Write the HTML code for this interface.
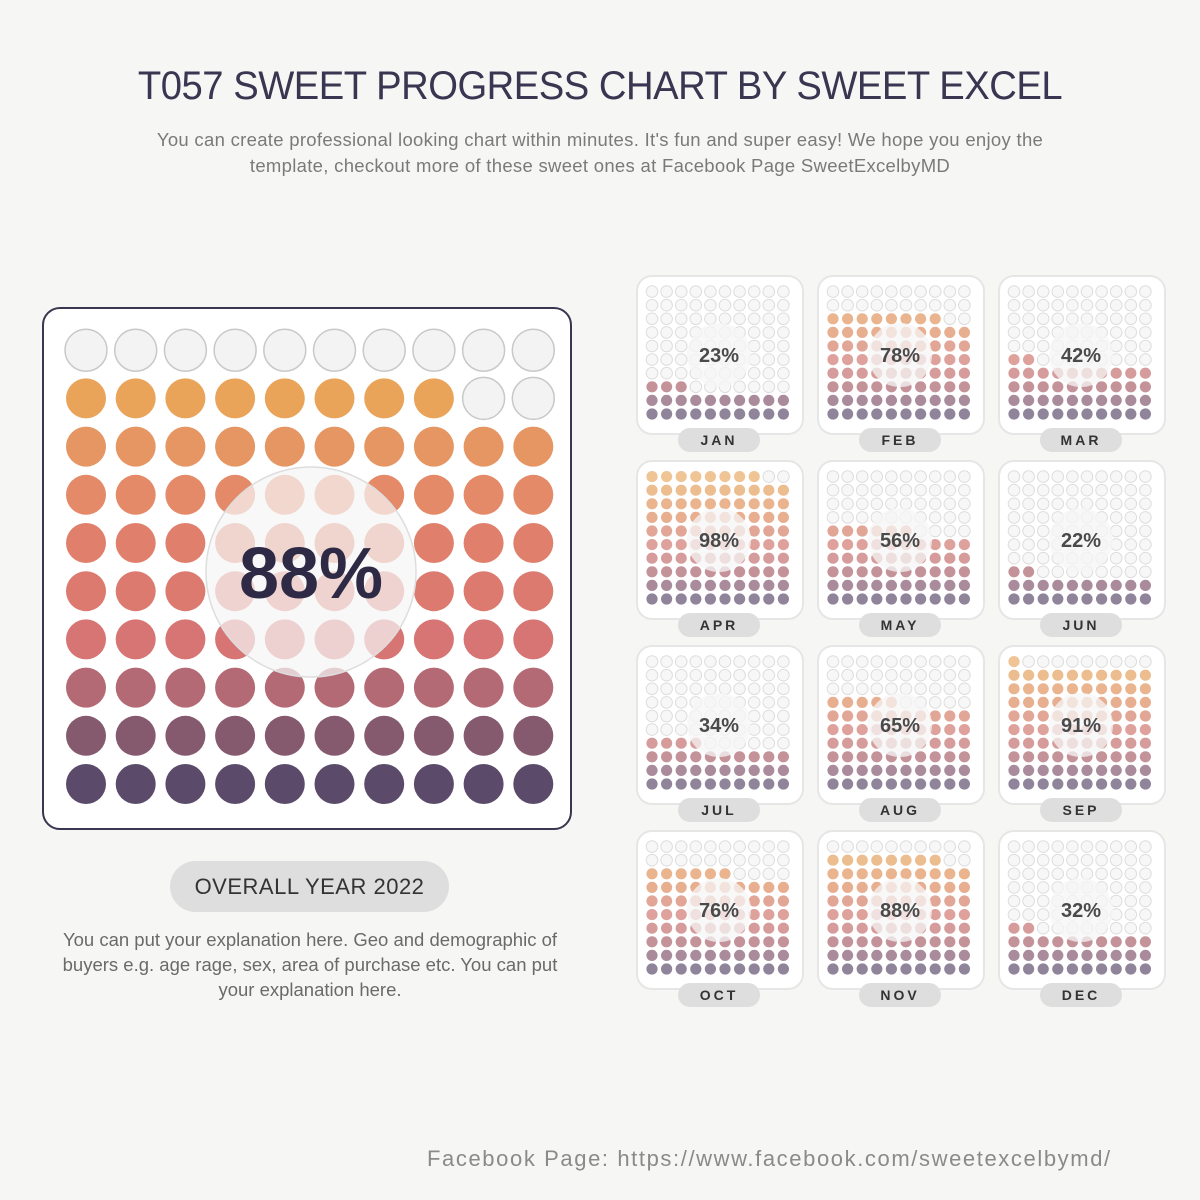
<!DOCTYPE html>
<html><head><meta charset="utf-8">
<style>
html,body{margin:0;padding:0;}
body{width:1200px;height:1200px;background:#f6f6f4;position:relative;overflow:hidden;font-family:"Liberation Sans",sans-serif;}
.abs{position:absolute;}
#title{left:0;width:1200px;top:64px;text-align:center;font-size:40px;color:#3a3550;letter-spacing:-0.5px;transform:scaleX(0.955);transform-origin:600px 0;}
#sub{left:130px;width:940px;top:127px;text-align:center;font-size:18.5px;color:#7a7a7a;line-height:26px;letter-spacing:0.3px;}
#main{left:42px;top:307px;width:526px;height:519px;border:2px solid #3a3550;border-radius:18px;background:#fff;}
.pill{background:#dedede;border-radius:26px;text-align:center;color:#333;}
#expl{left:50px;width:520px;top:927px;text-align:center;font-size:18.5px;color:#6a6a6a;line-height:25px;}
#foot{left:427px;top:1146px;font-size:22px;color:#8a8a8a;letter-spacing:1.6px;}
.card{position:absolute;width:164px;height:156px;background:#fff;border:2px solid #e6e6e6;border-radius:16px;}
.mlab{position:absolute;width:82px;height:24px;line-height:24px;font-size:14px;letter-spacing:3px;font-weight:bold;}
</style></head><body>
<div class="abs" id="title">T057 SWEET PROGRESS CHART BY SWEET EXCEL</div>
<div class="abs" id="sub">You can create professional looking chart within minutes. It's fun and super easy! We hope you enjoy the template, checkout more of these sweet ones at Facebook Page SweetExcelbyMD</div>
<div class="abs" id="main"></div>
<svg class="abs" id="mainsvg" style="left:0;top:0" width="1200" height="1200"></svg>
<div class="abs pill" style="left:170px;top:861px;width:279px;height:51px;line-height:51px;font-size:22px;letter-spacing:0.5px;">OVERALL YEAR 2022</div>
<div class="abs" id="expl">You can put your explanation here. Geo and demographic of buyers e.g. age rage, sex, area of purchase etc. You can put your explanation here.</div>
<div class="abs" id="foot">Facebook Page: https://www.facebook.com/sweetexcelbymd/</div>
<script>
const overallValue = 88;
const months = ["JAN","FEB","MAR","APR","MAY","JUN","JUL","AUG","SEP","OCT","NOV","DEC"];
const monthValues = [23,78,42,98,56,22,34,65,91,76,88,32];

const NS="http://www.w3.org/2000/svg";
const svg=document.getElementById('mainsvg');
function mk(tag,attrs,parent){const e=document.createElementNS(NS,tag);for(const k in attrs)e.setAttribute(k,attrs[k]);(parent||svg).appendChild(e);return e;}

const bigCols=["#5b4a6a","#85596e","#b46a74","#d77474","#dc7a70","#e0806c","#e48a68","#e59663","#e9a45a","#eca858"];
const smallCols=["#8f8499","#a98b9c","#c4939a","#d69c9b","#dea19c","#e2a696","#e7ae90","#eab48e","#ecbd8f","#efc595"];

const bx=v=>86+v*49.7, by=r=>784-r*48.2;
for(let i=0;i<100;i++){
  const r=Math.floor(i/10), c=i%10;
  const filled=i<overallValue;
  const d=mk('circle',{cx:bx(c),cy:by(r),r:filled?20:21,fill:filled?bigCols[r]:'#f3f3f3',stroke:filled?'none':'#c8c8c8','stroke-width':1.5});
  
  
}
const bc=mk('circle',{cx:311,cy:572,r:105,fill:'rgba(245,245,245,0.72)',stroke:'#dddddd','stroke-width':1.5});


const bt=mk('text',{x:311,y:598,'text-anchor':'middle','font-size':72,'font-weight':'bold',fill:'#2e2a45','font-family':'Liberation Sans, sans-serif'});
bt.textContent=overallValue+'%';



const colX=[636,817,998], rowY=[275,460,645,830];
months.forEach((m,k)=>{
  const X=colX[k%3], Y=rowY[Math.floor(k/3)];
  const card=document.createElement('div');
  card.className='card';card.style.left=X+'px';card.style.top=Y+'px';
  
  
  document.body.insertBefore(card,svg);
  const v=monthValues[k];
  const sx=c=>X+16+c*14.6, sy=r=>Y+139-r*13.6;
  for(let i=0;i<100;i++){
    const r=Math.floor(i/10), c=i%10, f=i<v;
    const d=mk('circle',{cx:sx(c),cy:sy(r),r:f?5.6:5.8,fill:f?smallCols[r]:'#f7f7f7',stroke:f?'none':'#dddddd','stroke-width':1});
    
    
  }
  const cc=mk('circle',{cx:X+83,cy:Y+80,r:32,fill:'rgba(245,245,245,0.75)'});
  
  
  const t=mk('text',{x:X+83,y:Y+87,'text-anchor':'middle','font-size':20,'font-weight':'bold',fill:'#4a4a4a','font-family':'Liberation Sans, sans-serif'});
  t.textContent=v+'%';
  
  
  const lab=document.createElement('div');
  lab.className='mlab pill';lab.textContent=m;
  lab.style.left=(X+42)+'px';lab.style.top=(Y+153)+'px';
  
  
  document.body.appendChild(lab);
});
</script>
</body></html>
